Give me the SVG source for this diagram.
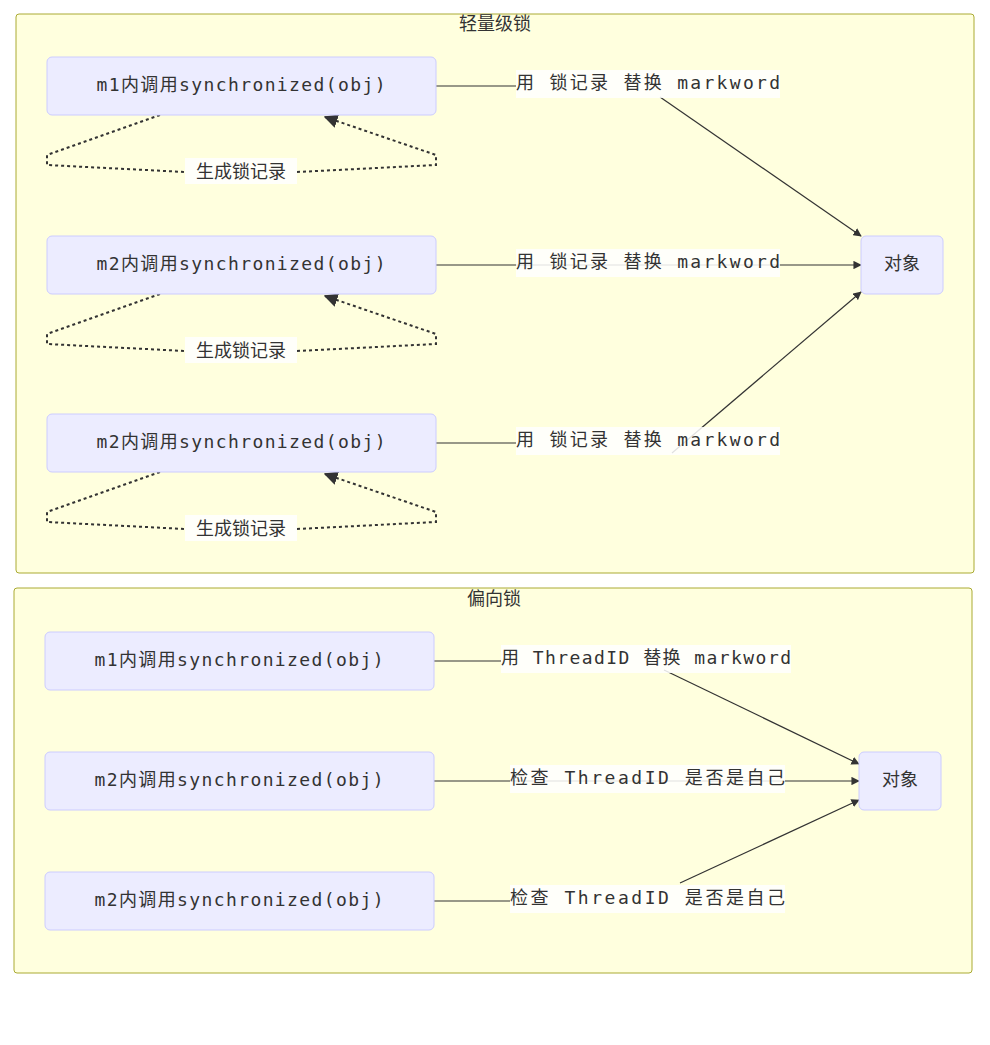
<svg xmlns="http://www.w3.org/2000/svg" width="990" height="1045" viewBox="0 0 990 1045">
<style>
.cl{fill:#ffffde;stroke:#aaaa33;stroke-width:1}
.nd{fill:#ececff;stroke:#ccccff;stroke-width:1}
.t{font-family:"DejaVu Sans Mono","Noto Sans CJK SC",monospace;font-size:18px;fill:#333;text-anchor:middle}
.s{text-anchor:start}
.ct{font-family:"Noto Sans CJK SC",sans-serif;font-size:18px;fill:#333;text-anchor:middle}
.e{fill:none;stroke:#333;stroke-width:1.2}
.d{fill:none;stroke:#333;stroke-width:2;stroke-dasharray:3,3}
.lb{fill:#fff;opacity:0.85}
</style>
<defs>
<marker id="a" viewBox="0 0 10 10" refX="9" refY="5" markerWidth="7" markerHeight="7" orient="auto"><path d="M0,0L10,5L0,10z" fill="#333"/></marker>
</defs>
<rect width="990" height="1045" fill="#fff"/>
<g id="cluster1"><rect class="cl" x="16" y="14" width="958" height="559" rx="3"/><text class="ct" x="495" y="30">轻量级锁</text></g>
<g id="cluster2"><rect class="cl" x="14" y="588" width="958" height="385" rx="3"/><text class="ct" x="494" y="605">偏向锁</text></g>
<g id="connectors">
<path class="e" d="M436,86H516"/><path class="e" d="M660,97L861,236" marker-end="url(#a)"/>
<path class="e" d="M436,265H861" marker-end="url(#a)"/>
<path class="e" d="M436,443H516"/><path class="e" d="M672,453L861,292" marker-end="url(#a)"/>
<path class="d" d="M160,115L47,155V165L185,172"/><path class="d" d="M297,172L436,165V155L325,117" marker-end="url(#a)"/>
<path class="d" d="M160,294L47,334V344L185,351"/><path class="d" d="M297,351L436,344V334L325,296" marker-end="url(#a)"/>
<path class="d" d="M160,472L47,512V522L185,529"/><path class="d" d="M297,529L436,522V512L325,474" marker-end="url(#a)"/>
<path class="e" d="M434,661H501"/><path class="e" d="M664,670L859,764" marker-end="url(#a)"/>
<path class="e" d="M434,781H859" marker-end="url(#a)"/>
<path class="e" d="M434,901H510"/><path class="e" d="M680,883L859,800" marker-end="url(#a)"/>
<rect class="lb" x="516" y="70" width="264" height="28"/><text class="t s" x="516" y="89" textLength="264" lengthAdjust="spacing">用 锁记录 替换 markword</text>
<rect class="lb" x="516" y="249" width="264" height="28"/><text class="t s" x="516" y="268" textLength="264" lengthAdjust="spacing">用 锁记录 替换 markword</text>
<rect class="lb" x="516" y="427" width="264" height="28"/><text class="t s" x="516" y="446" textLength="264" lengthAdjust="spacing">用 锁记录 替换 markword</text>
<rect class="lb" x="185" y="158" width="112" height="26"/><text class="t" x="241" y="178">生成锁记录</text>
<rect class="lb" x="185" y="337" width="112" height="26"/><text class="t" x="241" y="357">生成锁记录</text>
<rect class="lb" x="185" y="515" width="112" height="26"/><text class="t" x="241" y="535">生成锁记录</text>
<rect class="lb" x="501" y="645" width="290" height="28"/><text class="t s" x="501" y="664" textLength="290" lengthAdjust="spacing">用 ThreadID 替换 markword</text>
<rect class="lb" x="510" y="765" width="275" height="28"/><text class="t s" x="510" y="784" textLength="275" lengthAdjust="spacing">检查 ThreadID 是否是自己</text>
<rect class="lb" x="510" y="885" width="275" height="28"/><text class="t s" x="510" y="904" textLength="275" lengthAdjust="spacing">检查 ThreadID 是否是自己</text>
</g>
<g id="n1"><rect class="nd" x="47" y="57" width="389" height="58" rx="5"/><text class="t" x="241" y="91" textLength="289" lengthAdjust="spacing">m1内调用synchronized(obj)</text></g>
<g id="n2"><rect class="nd" x="47" y="236" width="389" height="58" rx="5"/><text class="t" x="241" y="270" textLength="289" lengthAdjust="spacing">m2内调用synchronized(obj)</text></g>
<g id="n3"><rect class="nd" x="47" y="414" width="389" height="58" rx="5"/><text class="t" x="241" y="448" textLength="289" lengthAdjust="spacing">m2内调用synchronized(obj)</text></g>
<g id="obj1"><rect class="nd" x="861" y="236" width="82" height="58" rx="5"/><text class="ct" x="902" y="270">对象</text></g>
<g id="b1"><rect class="nd" x="45" y="632" width="389" height="58" rx="5"/><text class="t" x="239" y="666" textLength="289" lengthAdjust="spacing">m1内调用synchronized(obj)</text></g>
<g id="b2"><rect class="nd" x="45" y="752" width="389" height="58" rx="5"/><text class="t" x="239" y="786" textLength="289" lengthAdjust="spacing">m2内调用synchronized(obj)</text></g>
<g id="b3"><rect class="nd" x="45" y="872" width="389" height="58" rx="5"/><text class="t" x="239" y="906" textLength="289" lengthAdjust="spacing">m2内调用synchronized(obj)</text></g>
<g id="obj2"><rect class="nd" x="859" y="752" width="82" height="58" rx="5"/><text class="ct" x="900" y="786">对象</text></g>
</svg>
